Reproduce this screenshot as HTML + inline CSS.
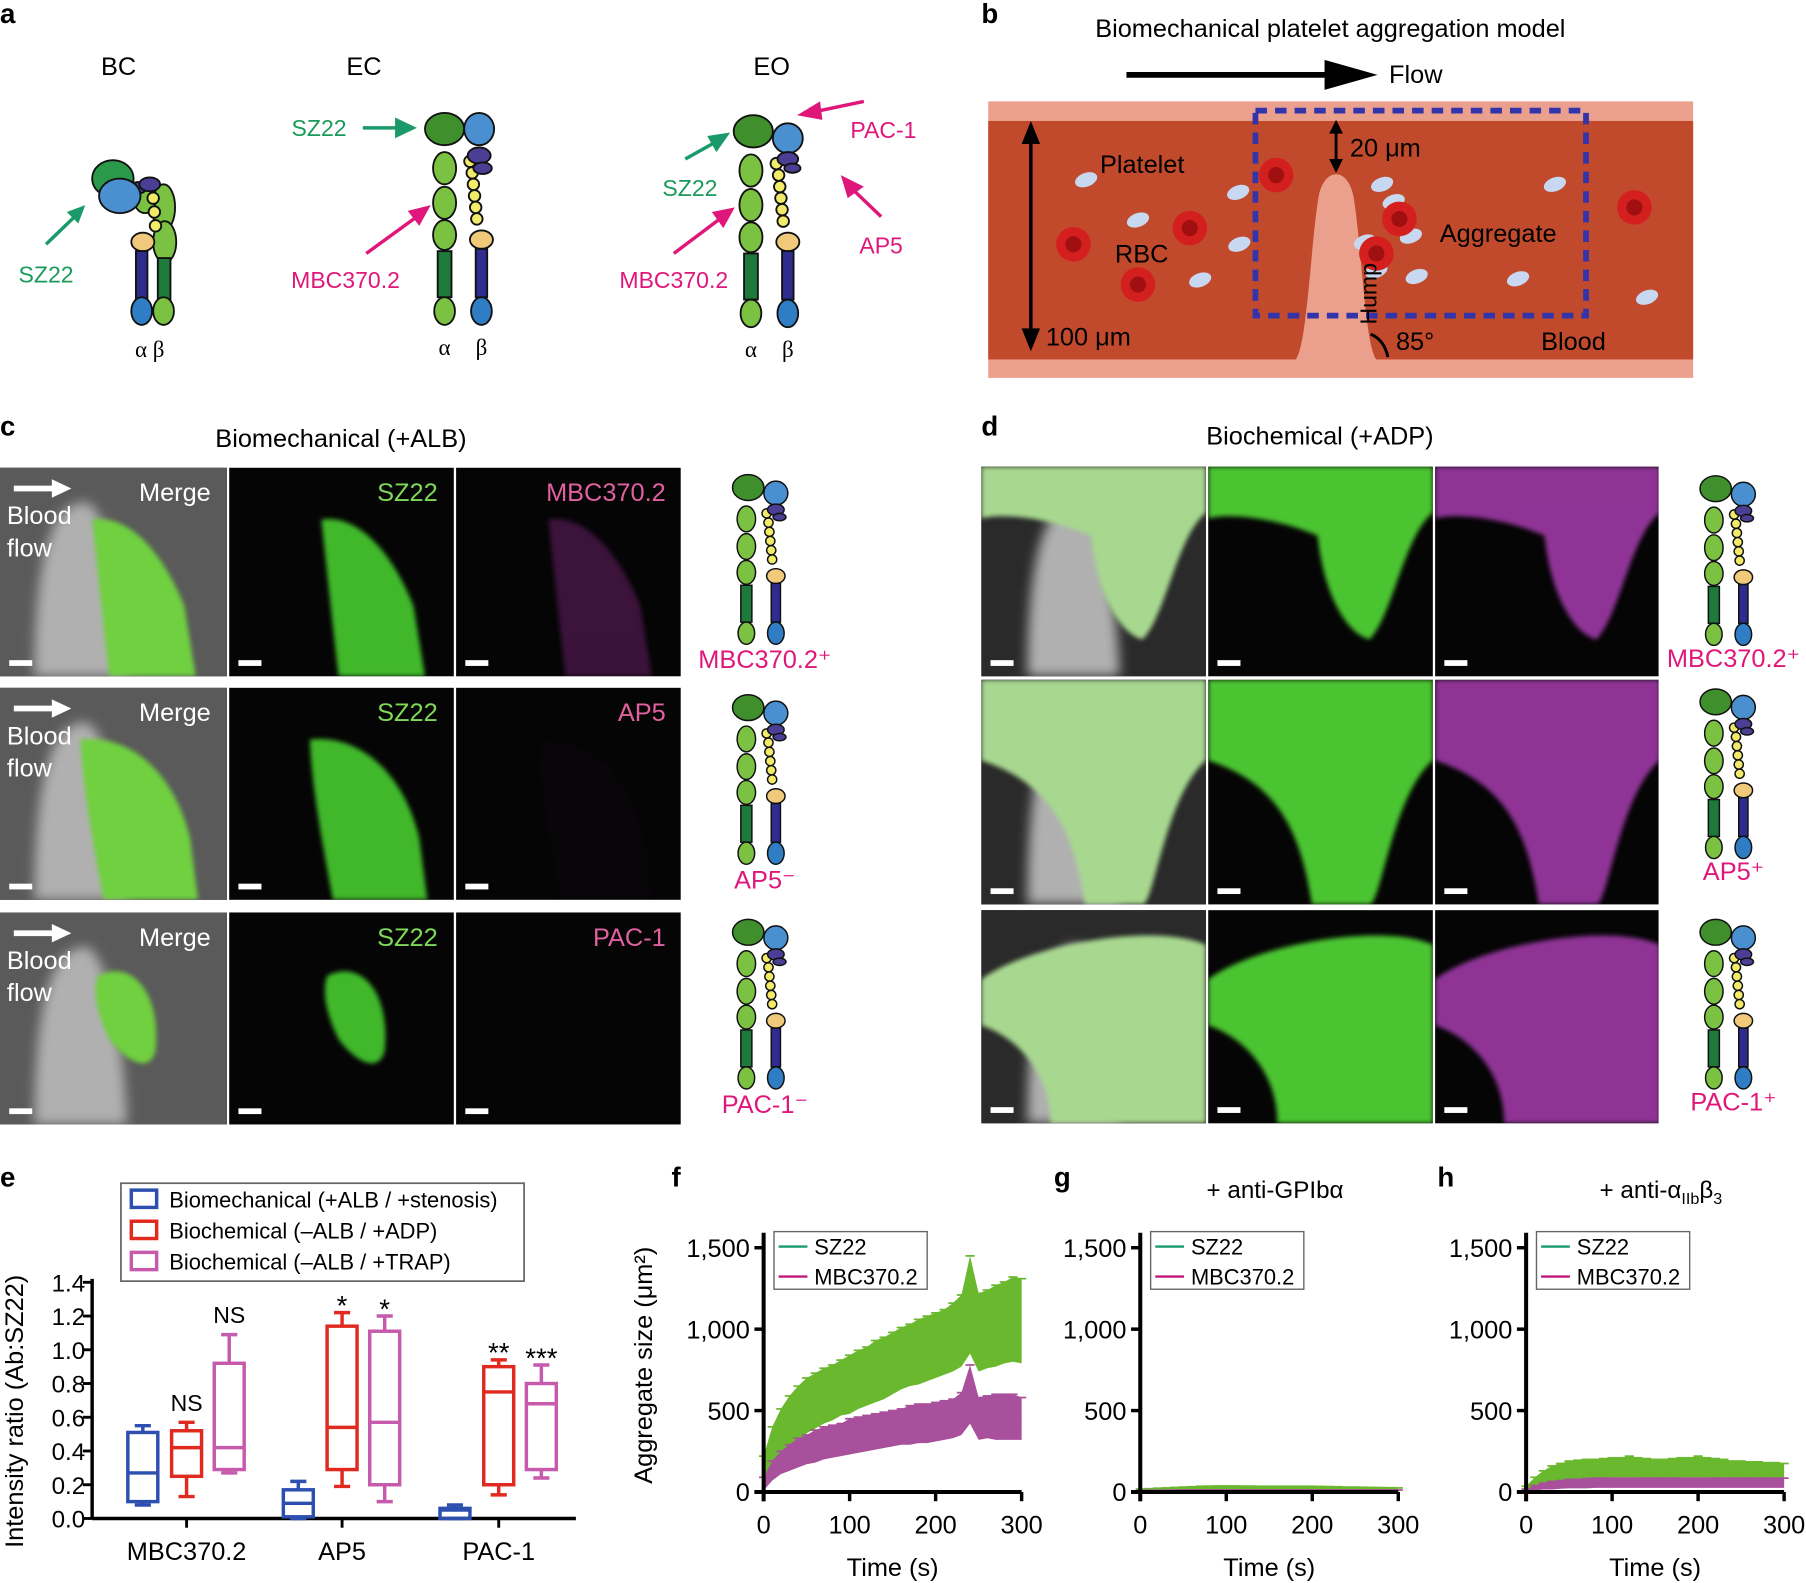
<!DOCTYPE html>
<html><head><meta charset="utf-8"><style>
html,body{margin:0;padding:0;background:#fff}
svg{display:block;font-family:"Liberation Sans",Arial,sans-serif}
</style></head><body>
<svg id="fig" width="1806" height="1583" viewBox="0 0 1568 1374" preserveAspectRatio="none" xmlns="http://www.w3.org/2000/svg">
<defs>
<filter id="blur" x="-20%" y="-20%" width="140%" height="140%"><feGaussianBlur stdDeviation="5"/></filter>
<filter id="blur2" x="-20%" y="-20%" width="140%" height="140%"><feGaussianBlur stdDeviation="2"/></filter>
</defs>
<g id="root"></g>
</svg>
<script>
// ---------- chart data (panel e) ----------
const eGroups = ["MBC370.2","AP5","PAC-1"];
const eSeries = ["Biomechanical (+ALB / +stenosis)","Biochemical (\u2013ALB / +ADP)","Biochemical (\u2013ALB / +TRAP)"];
const eWhiskLo = [[0.08,0.13,0.27],[0.0,0.19,0.10],[0.0,0.14,0.24]];
const eBoxLo   = [[0.10,0.25,0.29],[0.01,0.29,0.20],[0.0,0.20,0.29]];
const eMedian  = [[0.27,0.42,0.42],[0.09,0.54,0.57],[0.05,0.75,0.68]];
const eBoxHi   = [[0.51,0.52,0.92],[0.17,1.14,1.11],[0.06,0.90,0.80]];
const eWhiskHi = [[0.55,0.57,1.09],[0.22,1.22,1.20],[0.08,0.94,0.91]];
const eSig     = [["","NS","NS"],["","*","*"],["","**","***"]];
const eTicks = [0.0,0.2,0.4,0.6,0.8,1.0,1.2,1.4];
// ---------- time series (panels f,g,h) ----------
const tTimes = [0,10,20,30,40,50,60,70,80,90,100,110,120,130,140,150,160,170,180,190,200,210,220,230,240,250,260,270,280,290,300];
const fSZ22 = [100,250,350,420,480,530,560,590,610,640,660,690,710,740,760,790,820,840,860,880,900,920,950,990,1150,980,1000,1020,1040,1060,1050];
const fSZ22Err = [120,150,160,170,170,170,170,170,170,170,180,180,180,190,190,190,190,190,200,200,200,200,210,220,300,240,240,250,250,260,260];
const fMBC = [50,130,180,210,240,260,280,300,310,320,340,350,360,370,380,390,400,410,420,420,430,440,450,480,600,450,460,460,460,460,450];
const fMBCErr = [40,60,70,80,90,90,100,100,100,100,110,110,110,110,110,110,110,120,120,120,120,120,120,130,180,130,130,140,140,140,130];
const gSZ22 = [10,12,14,16,18,20,22,24,25,26,26,26,25,25,24,24,24,24,24,24,24,23,22,21,20,20,19,18,17,16,15];
const gSZ22Err = [8,8,9,9,10,10,10,11,11,11,11,11,11,11,11,11,11,11,11,11,11,11,11,11,10,10,10,10,10,10,10];
const gMBC = [5,6,6,7,7,8,8,8,8,8,8,8,8,8,8,8,8,8,8,8,8,8,8,8,8,8,8,8,8,8,8];
const gMBCErr = [4,4,4,4,4,4,4,4,4,4,4,4,4,4,4,4,4,4,4,4,4,4,4,4,4,4,4,4,4,4,4];
const hSZ22 = [20,60,90,110,120,130,135,140,140,145,150,150,155,150,145,140,140,145,150,150,155,150,145,140,135,135,130,130,125,125,120];
const hSZ22Err = [15,30,40,50,55,60,60,60,60,60,60,60,65,60,60,60,60,60,60,60,65,60,60,60,55,55,55,55,55,55,55];
const hMBC = [10,25,35,40,45,50,50,52,55,55,55,55,55,55,55,55,55,55,55,55,55,55,55,55,55,55,55,55,55,55,55];
const hMBCErr = [8,15,20,25,25,28,28,30,30,30,30,30,30,30,30,30,30,30,30,30,30,30,30,30,30,30,30,30,30,30,30];
const tTicksX = [0,100,200,300];
const tTicksY = [0,500,1000,1500];

const NS="http://www.w3.org/2000/svg";
const root=document.getElementById('root');
function el(tag,attrs,parent,txt){const e=document.createElementNS(NS,tag);for(const k in attrs)e.setAttribute(k,attrs[k]);if(txt!==undefined)e.textContent=txt;(parent||root).appendChild(e);return e;}
function txt(x,y,s,size,fill,anchor,parent,extra){const t=el('text',Object.assign({x:x,y:y,'font-size':size,fill:fill||'#000','text-anchor':anchor||'start'},extra||{}),parent,s);return t;}

// ---------- panel letters ----------
const letters=[["a",0,20],["b",852,20],["c",0,378],["d",852,378],["e",0,1030],["f",583,1030],["g",915,1030],["h",1248,1030]];
for(const L of letters){const t=txt(L[1],L[2],L[0],24,'#000','start',null,{'font-weight':'bold'});

}

// ---------- integrin drawing ----------
function integrin(x,y,s,open,parent,labels){
  const g=el('g',{transform:`translate(${x},${y}) scale(${s})`},parent);
  const st={stroke:'#111','stroke-width':1.6};
  const E=(cx,cy,rx,ry,f)=>el('ellipse',Object.assign({cx,cy,rx,ry,fill:f},st),g);
  E(0,48,10,14,'#7cc242');E(0,78,10,14,'#7cc242');E(0,106,10,13,'#7cc242');
  el('rect',Object.assign({x:-6,y:120,width:12,height:40,fill:'#1d7a3a'},st),g);
  E(0,172,9,12,'#7cc242');
  const bx=32;
  [[22,42],[24,52],[25,62],[26,72],[27,82],[28,92]].forEach(p=>E(p[0],p[1],5,5,'#f2eb6a'));
  E(bx,110,10,8,'#f0c97a');
  el('rect',Object.assign({x:bx-5,y:118,width:10,height:42,fill:'#2e2d8f'},st),g);
  E(bx,172,9,12,'#2f7dc4');
  if(open){E(2,14,17,14,'#3f8f2c');E(32,20,13,13,'#4a90d0');E(32,38,9,6,'#4a3e95');E(36,46,7,4,'#4a3e95');}
  else{E(0,14,17,14,'#3f8f2c');E(30,14,13,14,'#4a90d0');E(30,37,10,7,'#4a3e95');E(33,48,8,5,'#4a3e95');}
  if(labels){txt(0,210,'\u03b1',20,'#000','middle',g,{'font-family':'Liberation Serif'});txt(bx,210,'\u03b2',20,'#000','middle',g,{'font-family':'Liberation Serif'});}
  return g;
}

// ---------- panel a ----------
const pa=el('g',{});


txt(103,65,'BC',22,'#000','middle',pa);txt(316,65,'EC',22,'#000','middle',pa);txt(670,65,'EO',22,'#000','middle',pa);
(function(){const g=el('g',{},pa);const S={stroke:'#111','stroke-width':1.6};
 const E=(cx,cy,rx,ry,f)=>el('ellipse',Object.assign({cx,cy,rx,ry,fill:f},S),g);
 E(142,180,10,20,'#7cc242');E(143,210,10,18,'#7cc242');E(126,175,9,10,'#7cc242');
 [[132,160],[133,172],[134,184],[135,196]].forEach(p=>E(p[0],p[1],5,5,'#f2eb6a'));
 E(124,210,10,8,'#f0c97a');
 el('rect',Object.assign({x:118,y:218,width:10,height:42,fill:'#2e2d8f'},S),g);
 el('rect',Object.assign({x:137,y:224,width:11,height:36,fill:'#1d7a3a'},S),g);
 E(123,270,9,12,'#2f7dc4');E(142,270,9,12,'#7cc242');
 E(98,155,18,16,'#2a9a4a');E(120,163,7,5,'#4a3e95');E(130,160,9,6,'#4a3e95');E(104,170,18,15,'#4a90d0');
})();
txt(40,245,'SZ22',20,'#1a9a5a','middle',pa);
el('line',{x1:40,y1:212,x2:68,y2:185,stroke:'#1a9a6a','stroke-width':3},pa);el('path',{d:'M74,178 L58,184 L68,194Z',fill:'#1a9a6a'},pa);
txt(130,310,'\u03b1 \u03b2',20,'#000','middle',pa,{'font-family':'Liberation Serif'});
integrin(386,98,1,false,pa,true);
txt(277,118,'SZ22',20,'#1a9a5a','middle',pa);
el('line',{x1:315,y1:111,x2:345,y2:111,stroke:'#1a9a6a','stroke-width':3},pa);el('path',{d:'M362,111 L343,102 L343,120Z',fill:'#1a9a6a'},pa);
txt(300,250,'MBC370.2',20,'#e0177a','middle',pa);
el('line',{x1:318,y1:220,x2:362,y2:188,stroke:'#e0177a','stroke-width':3},pa);el('path',{d:'M374,178 L354,183 L364,196Z',fill:'#e0177a'},pa);
integrin(652,100,1,true,pa,true);
txt(767,120,'PAC-1',20,'#e0177a','middle',pa);
el('line',{x1:750,y1:88,x2:712,y2:96,stroke:'#e0177a','stroke-width':3},pa);el('path',{d:'M692,100 L712,88 L714,104Z',fill:'#e0177a'},pa);
txt(599,170,'SZ22',20,'#1a9a5a','middle',pa);
el('line',{x1:595,y1:138,x2:620,y2:124,stroke:'#1a9a6a','stroke-width':3},pa);el('path',{d:'M634,115 L614,118 L622,132Z',fill:'#1a9a6a'},pa);
txt(765,220,'AP5',20,'#e0177a','middle',pa);
el('line',{x1:765,y1:188,x2:742,y2:166,stroke:'#e0177a','stroke-width':3},pa);el('path',{d:'M730,152 L736,172 L750,162Z',fill:'#e0177a'},pa);
txt(585,250,'MBC370.2',20,'#e0177a','middle',pa);
el('line',{x1:585,y1:220,x2:625,y2:190,stroke:'#e0177a','stroke-width':3},pa);el('path',{d:'M638,180 L618,184 L628,198Z',fill:'#e0177a'},pa);

// ---------- panel b ----------
const pb=el('g',{});


txt(1155,32,'Biomechanical platelet aggregation model',22,'#000','middle',pb);
el('line',{x1:978,y1:65,x2:1160,y2:65,stroke:'#000','stroke-width':5},pb);el('path',{d:'M1196,65 L1150,52 L1150,78Z',fill:'#000'},pb);
txt(1206,72,'Flow',22,'#000','start',pb);
el('rect',{x:858,y:88,width:612,height:240,fill:'#eba08e'},pb);
el('rect',{x:858,y:105,width:612,height:207,fill:'#c24a2c'},pb);
el('path',{d:'M1125,312 C1135,300 1138,210 1145,170 C1150,145 1170,145 1175,170 C1182,210 1185,300 1195,312Z',fill:'#eba08e'},pb);
[[943,156],[988,191],[1042,243],[1076,212],[1075,167],[1318,242],[1350,160],[1430,258],[1210,175],[1225,205],[1195,235],[1230,240],[1200,160],[1185,210]].forEach(p=>el('ellipse',{cx:p[0],cy:p[1],rx:10,ry:6,fill:'#c8d8f0',transform:`rotate(-20 ${p[0]} ${p[1]})`},pb));
[[932,212],[1033,198],[988,247],[1108,152],[1419,180],[1195,220],[1215,190]].forEach(p=>{el('circle',{cx:p[0],cy:p[1],r:15,fill:'#d41f1f'},pb);el('circle',{cx:p[0],cy:p[1],r:7,fill:'#a01010'},pb);});
el('rect',{x:1090,y:96,width:287,height:178,fill:'none',stroke:'#3333aa','stroke-width':5,'stroke-dasharray':'10,7'},pb);
el('line',{x1:895,y1:120,x2:895,y2:290,stroke:'#000','stroke-width':3},pb);
el('path',{d:'M895,105 L887,125 L903,125Z M895,305 L887,285 L903,285Z',fill:'#000'},pb);
el('line',{x1:1160,y1:112,x2:1160,y2:140,stroke:'#000','stroke-width':2.5},pb);
el('path',{d:'M1160,104 L1154,116 L1166,116Z M1160,150 L1154,138 L1166,138Z',fill:'#000'},pb);
txt(955,150,'Platelet',22,'#000','start',pb);txt(968,228,'RBC',22,'#000','start',pb);
txt(1172,136,'20 \u03bcm',22,'#000','start',pb);txt(1250,210,'Aggregate',22,'#000','start',pb);
txt(908,300,'100 \u03bcm',22,'#000','start',pb);txt(1212,304,'85\u00b0',22,'#000','start',pb);
txt(1338,304,'Blood',22,'#000','start',pb);
txt(1195,255,'Hump',20,'#000','middle',pb,{transform:'rotate(-90 1195 255)'});
el('path',{d:'M1190,290 Q1202,295 1205,310',fill:'none',stroke:'#000','stroke-width':2.5},pb);

// ---------- micrographs ----------
function tile(x,y,w,h,kind,color,name,parent){
  const g=el('g',{},parent);
  
  
  el('rect',{x,y,width:w,height:h,fill:'#050505'},g);
  el('clipPath',{id:'cp'+name},g);
  const cp=g.lastChild;el('rect',{x,y,width:w,height:h},cp);
  const c=el('g',{'clip-path':`url(#cp${name})`},g);
  if(kind.bg){el('rect',{x,y,width:w,height:h,fill:kind.bgc||'#5a5a5a'},c);
    el('path',{d:`M${x+kind.hx},${y+h} C${x+kind.hx},${y+60} ${x+kind.hx+20},${y+30} ${x+kind.hx+45},${y+30} C${x+kind.hx+70},${y+40} ${x+kind.hx+80},${y+h-30} ${x+kind.hx+80},${y+h}Z`,fill:'#b0b0b0',filter:'url(#blur)'},c);}
  const op=(kind.op===undefined)?1:kind.op;
  if(op>0) el('path',{d:kind.path(x,y),fill:color,filter:'url(#blur2)',opacity:op},c);
  el('rect',{x:x+8,y:y+h-14,width:20,height:5,fill:'#fff'},g);
  return g;
}
const shC1=(x,y)=>`M${x+80},${y+45} C${x+110},${y+40} ${x+140},${y+70} ${x+160},${y+120} L${x+170},${y+181} L${x+95},${y+181} C${x+90},${y+140} ${x+85},${y+90} ${x+80},${y+45}Z`;
const shC2=(x,y)=>`M${x+70},${y+45} C${x+110},${y+40} ${x+150},${y+70} ${x+165},${y+130} L${x+172},${y+184} L${x+90},${y+184} C${x+82},${y+140} ${x+72},${y+90} ${x+70},${y+45}Z`;
const shC3=(x,y)=>`M${x+85},${y+55} C${x+115},${y+40} ${x+140},${y+70} ${x+135},${y+120} C${x+130},${y+140} ${x+110},${y+130} ${x+95},${y+110} C${x+85},${y+90} ${x+80},${y+70} ${x+85},${y+55}Z`;
const shD1=(x,y)=>`M${x},${y} L${x+195},${y} L${x+195},${y+40} C${x+170},${y+60} ${x+160},${y+130} ${x+140},${y+150} C${x+120},${y+145} ${x+100},${y+110} ${x+95},${y+60} C${x+60},${y+45} ${x+20},${y+40} ${x},${y+45}Z`;
const shD2=(x,y)=>`M${x},${y} L${x+195},${y} L${x+195},${y+70} C${x+160},${y+100} ${x+150},${y+195} ${x+140},${y+195} L${x+90},${y+195} C${x+80},${y+130} ${x+60},${y+90} ${x},${y+70}Z`;
const shD3=(x,y)=>`M${x},${y+60} C${x+40},${y+30} ${x+150},${y+10} ${x+195},${y+30} L${x+195},${y+185} L${x+60},${y+185} C${x+60},${y+140} ${x+30},${y+110} ${x},${y+100}Z`;
const cRows=[[406,181,shC1,'Merge','SZ22','MBC370.2','MBC370.2\u207a',0.9],[597,184,shC2,'Merge','SZ22','AP5','AP5\u207b',0.06],[792,184,shC3,'Merge','SZ22','PAC-1','PAC-1\u207b',0.0]];
const pc=el('g',{});


txt(296,388,'Biomechanical (+ALB)',22,'#000','middle',pc);
cRows.forEach((r,i)=>{
  const [y,h,sh,a,b,cN,lab,op]=r;
  tile(0,y,197,h,{bg:true,hx:30,path:sh},'#6fd040','c-merge-'+(i+1),pc);
  tile(199,y,195,h,{path:(x,yy)=>sh(x,yy)},'#3fb82a','c-sz22-'+(i+1),pc);
  tile(396,y,195,h,{path:sh,op:op*0.35},'#b030b0','c-ab-'+(i+1),pc);
  el('path',{d:`M12,${y+18} L48,${y+18}`,stroke:'#fff','stroke-width':5},pc);el('path',{d:`M62,${y+18} L45,${y+10} L45,${y+26}Z`,fill:'#fff'},pc);
  txt(6,y+49,'Blood',22,'#fff','start',pc);txt(6,y+77,'flow',22,'#fff','start',pc);
  txt(183,y+29,a,22,'#fff','end',pc);txt(380,y+29,b,22,'#7ed957','end',pc);txt(578,y+29,cN,22,'#e060a0','end',pc);
  integrin(648,y+6,0.8,true,pc,false);
  txt(664,y+174,lab,22,'#e0177a','middle',pc);
});
const dRows=[[405,182,shD1],[590,195,shD2],[790,185,shD3]];
const dLab=['MBC370.2\u207a','AP5\u207a','PAC-1\u207a'];
const pd=el('g',{});


txt(1146,386,'Biochemical (+ADP)',22,'#000','middle',pd);
dRows.forEach((r,i)=>{
  const [y,h,sh]=r;
  tile(852,y,195,h,{bg:true,hx:40,path:sh,bgc:'#2a2a2a'},'#a8d890','d-merge-'+(i+1),pd);
  tile(1049,y,195,h,{path:sh},'#4cc430','d-sz22-'+(i+1),pd);
  tile(1246,y,194,h,{path:sh,op:0.85},'#a83cb0','d-ab-'+(i+1),pd);
  integrin(1488,y+8,0.8,true,pd,false);
  txt(1505,y+174,dLab[i],22,'#e0177a','middle',pd);
});

// ---------- panel e box plot ----------
const pe=el('g',{});


const eX0=80,eX1=500,eY0=1318,eYTop=1113;
const yE=v=>eY0-(v/1.4)*(eY0-eYTop);
const gCenters=[162,297,433];
const eColors=['#2c4fb0','#e02a20','#c65aac'];
const eOff=[-38,0,37];
el('line',{x1:eX0,y1:eYTop-3,x2:eX0,y2:eY0,stroke:'#000','stroke-width':3},pe);
el('line',{x1:eX0,y1:eY0,x2:eX1,y2:eY0,stroke:'#000','stroke-width':3},pe);
eTicks.forEach(v=>{el('line',{x1:eX0-8,y1:yE(v),x2:eX0,y2:yE(v),stroke:'#000','stroke-width':2.5},pe);
  const t=txt(eX0-6,yE(v)+8,v.toFixed(1),21,'#000','end',pe);});
const yt=txt(20,1225,'Intensity ratio (Ab:SZ22)',22,'#000','middle',pe,{transform:'rotate(-90 20 1225)'});

eGroups.forEach((gname,gi)=>{
  el('line',{x1:gCenters[gi],y1:eY0,x2:gCenters[gi],y2:eY0+8,stroke:'#000','stroke-width':2.5},pe);
  const gl=txt(gCenters[gi],1354,gname,22,'#000','middle',pe);
  for(let s=0;s<3;s++){
    const cx=gCenters[gi]+eOff[s],w=26,col=eColors[s];
    const bg=el('g',{},pe);
    
    
    const S={stroke:col,'stroke-width':3,fill:'none'};
    el('line',Object.assign({x1:cx,y1:yE(eWhiskLo[gi][s]),x2:cx,y2:yE(eBoxLo[gi][s])},S),bg);
    el('line',Object.assign({x1:cx,y1:yE(eWhiskHi[gi][s]),x2:cx,y2:yE(eBoxHi[gi][s])},S),bg);
    el('line',Object.assign({x1:cx-7,y1:yE(eWhiskLo[gi][s]),x2:cx+7,y2:yE(eWhiskLo[gi][s])},S),bg);
    el('line',Object.assign({x1:cx-7,y1:yE(eWhiskHi[gi][s]),x2:cx+7,y2:yE(eWhiskHi[gi][s])},S),bg);
    el('rect',Object.assign({x:cx-w/2,y:yE(eBoxHi[gi][s]),width:w,height:Math.max(1,yE(eBoxLo[gi][s])-yE(eBoxHi[gi][s]))},S),bg);
    el('line',Object.assign({x1:cx-w/2,y1:yE(eMedian[gi][s]),x2:cx+w/2,y2:yE(eMedian[gi][s])},S),bg);
    if(eSig[gi][s]){const isStar=eSig[gi][s].indexOf('*')>=0;
      txt(cx,yE(eWhiskHi[gi][s])-(isStar?6:10)+(isStar?8:0),eSig[gi][s],isStar?24:20,'#000','middle',bg);}
  }
});
const leg=el('g',{});


el('rect',{x:105,y:1027,width:350,height:85,fill:'#fff',stroke:'#666','stroke-width':1.5},leg);
eSeries.forEach((s,i)=>{const y=1042+i*27;
  el('rect',{x:114,y:y-9,width:22,height:15,fill:'none',stroke:eColors[i],'stroke-width':3},leg);
  const t=txt(147,y+6,s,19,'#000','start',leg);});

// ---------- time series panels ----------
function tsPanel(name,x0,title,ySZ,eSZ,yM,eM,showYTitle){
  const g=el('g',{});
  
  
  const W=224,Y0=1295,Ytop=1083;
  const xs=t=>x0+t/300*W, ys=v=>Y0-v/1500*(Y0-Ytop);
  const band=(m,e,col)=>{
    let up=tTimes.map((t,i)=>`${xs(t)},${ys(m[i]+e[i])}`);
    let dn=tTimes.map((t,i)=>`${xs(t)},${ys(Math.max(0,m[i]-e[i]))}`).reverse();
    const p=el('polygon',{points:up.concat(dn).join(' '),fill:col},g);
    
    
    tTimes.forEach((t,i)=>{el('line',{x1:xs(t)-4,x2:xs(t)+4,y1:ys(m[i]+e[i]),y2:ys(m[i]+e[i]),stroke:col,'stroke-width':1.5},g);});
    const l=el('polyline',{points:tTimes.map((t,i)=>`${xs(t)},${ys(m[i])}`).join(' '),fill:'none',stroke:col,'stroke-width':2},g);
    
    
  };
  band(ySZ,eSZ,'#6ab82e');
  band(yM,eM,'#a8509c');
  el('line',{x1:x0,y1:1070,x2:x0,y2:Y0+8,stroke:'#000','stroke-width':3.5},g);
  el('line',{x1:x0-8,y1:Y0,x2:x0+W,y2:Y0,stroke:'#000','stroke-width':3.5},g);
  tTicksY.forEach(v=>{el('line',{x1:x0-8,y1:ys(v),x2:x0,y2:ys(v),stroke:'#000','stroke-width':3},g);
    const t=txt(x0-12,ys(v)+8,v.toLocaleString('en-US'),22,'#000','end',g);});
  tTicksX.forEach(v=>{el('line',{x1:xs(v),y1:Y0,x2:xs(v),y2:Y0+8,stroke:'#000','stroke-width':3},g);
    const t=txt(xs(v),Y0+36,String(v),22,'#000','middle',g);});
  const xt=txt(x0+W/2,1368,'Time (s)',22,'#000','middle',g);
  if(showYTitle){const t=txt(566,1185,'Aggregate size (\u03bcm\u00b2)',22,'#000','middle',g,{transform:'rotate(-90 566 1185)'});
    }
  if(title){const t=txt(x0+W/2+5,1040,'',21,'#000','middle',g);t.innerHTML=title;}
  const lg=el('g',{},g);
  
  
  el('rect',{x:x0+9,y:1069,width:133,height:50,fill:'#fff',stroke:'#666','stroke-width':1.2},lg);
  el('line',{x1:x0+13,x2:x0+38,y1:1082,y2:1082,stroke:'#1a9a6a','stroke-width':2},lg);
  el('line',{x1:x0+13,x2:x0+38,y1:1108,y2:1108,stroke:'#c0187a','stroke-width':2},lg);
  txt(x0+44,1089,'SZ22',19,'#000','start',lg);txt(x0+44,1115,'MBC370.2',19,'#000','start',lg);
}
tsPanel('panel-f-chart',663,'',fSZ22,fSZ22Err,fMBC,fMBCErr,true);
tsPanel('panel-g-chart',990,'+ anti-GPIb\u03b1',gSZ22,gSZ22Err,gMBC,gMBCErr,false);
tsPanel('panel-h-chart',1325,'+ anti-\u03b1<tspan font-size="14" dy="5">IIb</tspan><tspan dy="-5">\u03b2</tspan><tspan font-size="14" dy="5">3</tspan>',hSZ22,hSZ22Err,hMBC,hMBCErr,false);
</script>
</body></html>
